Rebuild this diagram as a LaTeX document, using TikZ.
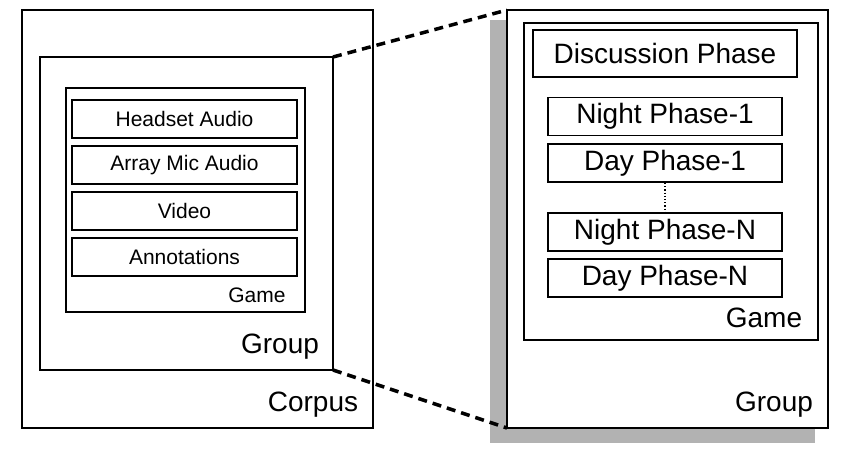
\documentclass[tikz,border=0pt]{standalone}
\usepackage{fontspec}
\setmainfont{Liberation Sans}
\begin{document}
\begin{tikzpicture}[x=1pt,y=-1pt,
 box/.style={draw=black,line width=1.8pt},
 sm/.style={box,minimum width=225pt,minimum height=38pt,font=\fontsize{21}{23}\selectfont,inner sep=0pt},
 bg/.style={box,minimum width=234pt,minimum height=38pt,font=\fontsize{28}{30}\selectfont,inner sep=0pt},
 lbl/.style={font=\fontsize{21}{23}\selectfont},
 lbb/.style={font=\fontsize{28}{30}\selectfont},
 dl/.style={line width=3.5pt,dash pattern=on 9pt off 6pt}]
\useasboundingbox (0,0) rectangle (843,464);
% left
\draw[box] (22,10) rectangle (373,428);
\node[lbb] (corpus) at (313,405) {Corpus};
\draw[box] (40,57) rectangle (333,370);
\coordinate (lgt) at (333,57);
\coordinate (lgb) at (333,370);
\node[lbb] (group1) at (280,347) {Group};
\draw[box] (66,88) rectangle (305,312);
\node[lbl] (game1) at (257,295) {Game};
\node[sm] (h) at (184.5,119) {Headset Audio};
\node[sm] (a) at (184.5,165) {Array Mic Audio};
\node[sm] (v) at (184.5,211) {Video};
\node[sm] (n) at (184.5,257) {Annotations};
% right
\fill[gray!60] (490,20) rectangle (815,443);
\draw[box,fill=white] (507,10) rectangle (828,428);
\coordinate (rgt) at (507,10);
\coordinate (rgb) at (507,428);
\node[lbb] (group2) at (774,405) {Group};
\draw[box] (524,23) rectangle (818,340);
\node[lbb] (game2) at (764,318) {Game};
\node[bg,minimum width=264pt,minimum height=47pt] (d) at (665,53.5) {Discussion Phase};
\node[bg] (n1) at (665,116.5) {Night Phase-1};
\node[bg] (d1) at (665,163) {Day Phase-1};
\node[bg] (nn) at (665,232) {Night Phase-N};
\node[bg] (dn) at (665,278) {Day Phase-N};
\draw[line width=1.2pt,dotted] (d1) -- (nn);
\draw[dl] (lgt) -- (rgt);
\draw[dl] (lgb) -- (rgb);
\end{tikzpicture}
\end{document}
